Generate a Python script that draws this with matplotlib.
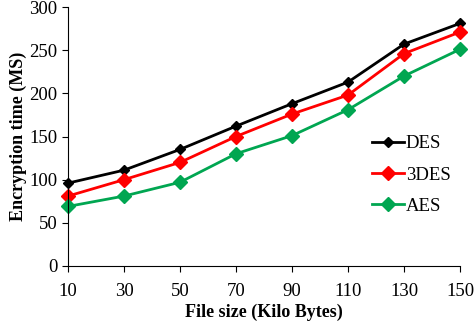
import matplotlib.pyplot as plt

plt.rcParams['font.family'] = ['Liberation Serif', 'DejaVu Serif']

# data
file_size = [10, 30, 50, 70, 90, 110, 130, 150]
des = [96, 111, 135, 162, 188, 213, 257, 281]
des3 = [81, 100, 120, 150, 176, 198, 246, 271]
aes = [69, 81, 97, 130, 151, 181, 220, 251]

fig = plt.figure(figsize=(4.74, 3.23), dpi=100)
ax = fig.add_axes([68/474, 1 - 266/323, (460-68)/474, (266-7)/323])

ax.plot(file_size, des, color='black', marker='D', markersize=5, lw=2, label='DES')
ax.plot(file_size, des3, color='#ff0000', marker='D', markersize=7, lw=2, label='3DES')
ax.plot(file_size, aes, color='#00a651', marker='D', markersize=7, lw=2, label='AES')

ax.set_xlim(10, 150)
ax.set_ylim(0, 300)
ax.set_xticks(file_size)
ax.set_yticks(range(0, 301, 50))
ax.spines['top'].set_visible(False)
ax.spines['right'].set_visible(False)
ax.tick_params(direction='out', labelsize=13.5, length=4)
ax.tick_params(axis='x', pad=8)
ax.set_xlabel('File size (Kilo Bytes)', fontweight='bold', fontsize=13, labelpad=3)
ax.set_ylabel('Encryption time (MS)', fontweight='bold', fontsize=13, labelpad=2)

fig.legend(loc='center left', bbox_to_anchor=(372/474, 1 - 175/323), frameon=False,
           fontsize=13.5, handlelength=1.7, handletextpad=0.1, labelspacing=0.75,
           borderpad=0, borderaxespad=0)
for l in ax.lines:
    l.set_clip_on(False)

fig.savefig('out.png')
